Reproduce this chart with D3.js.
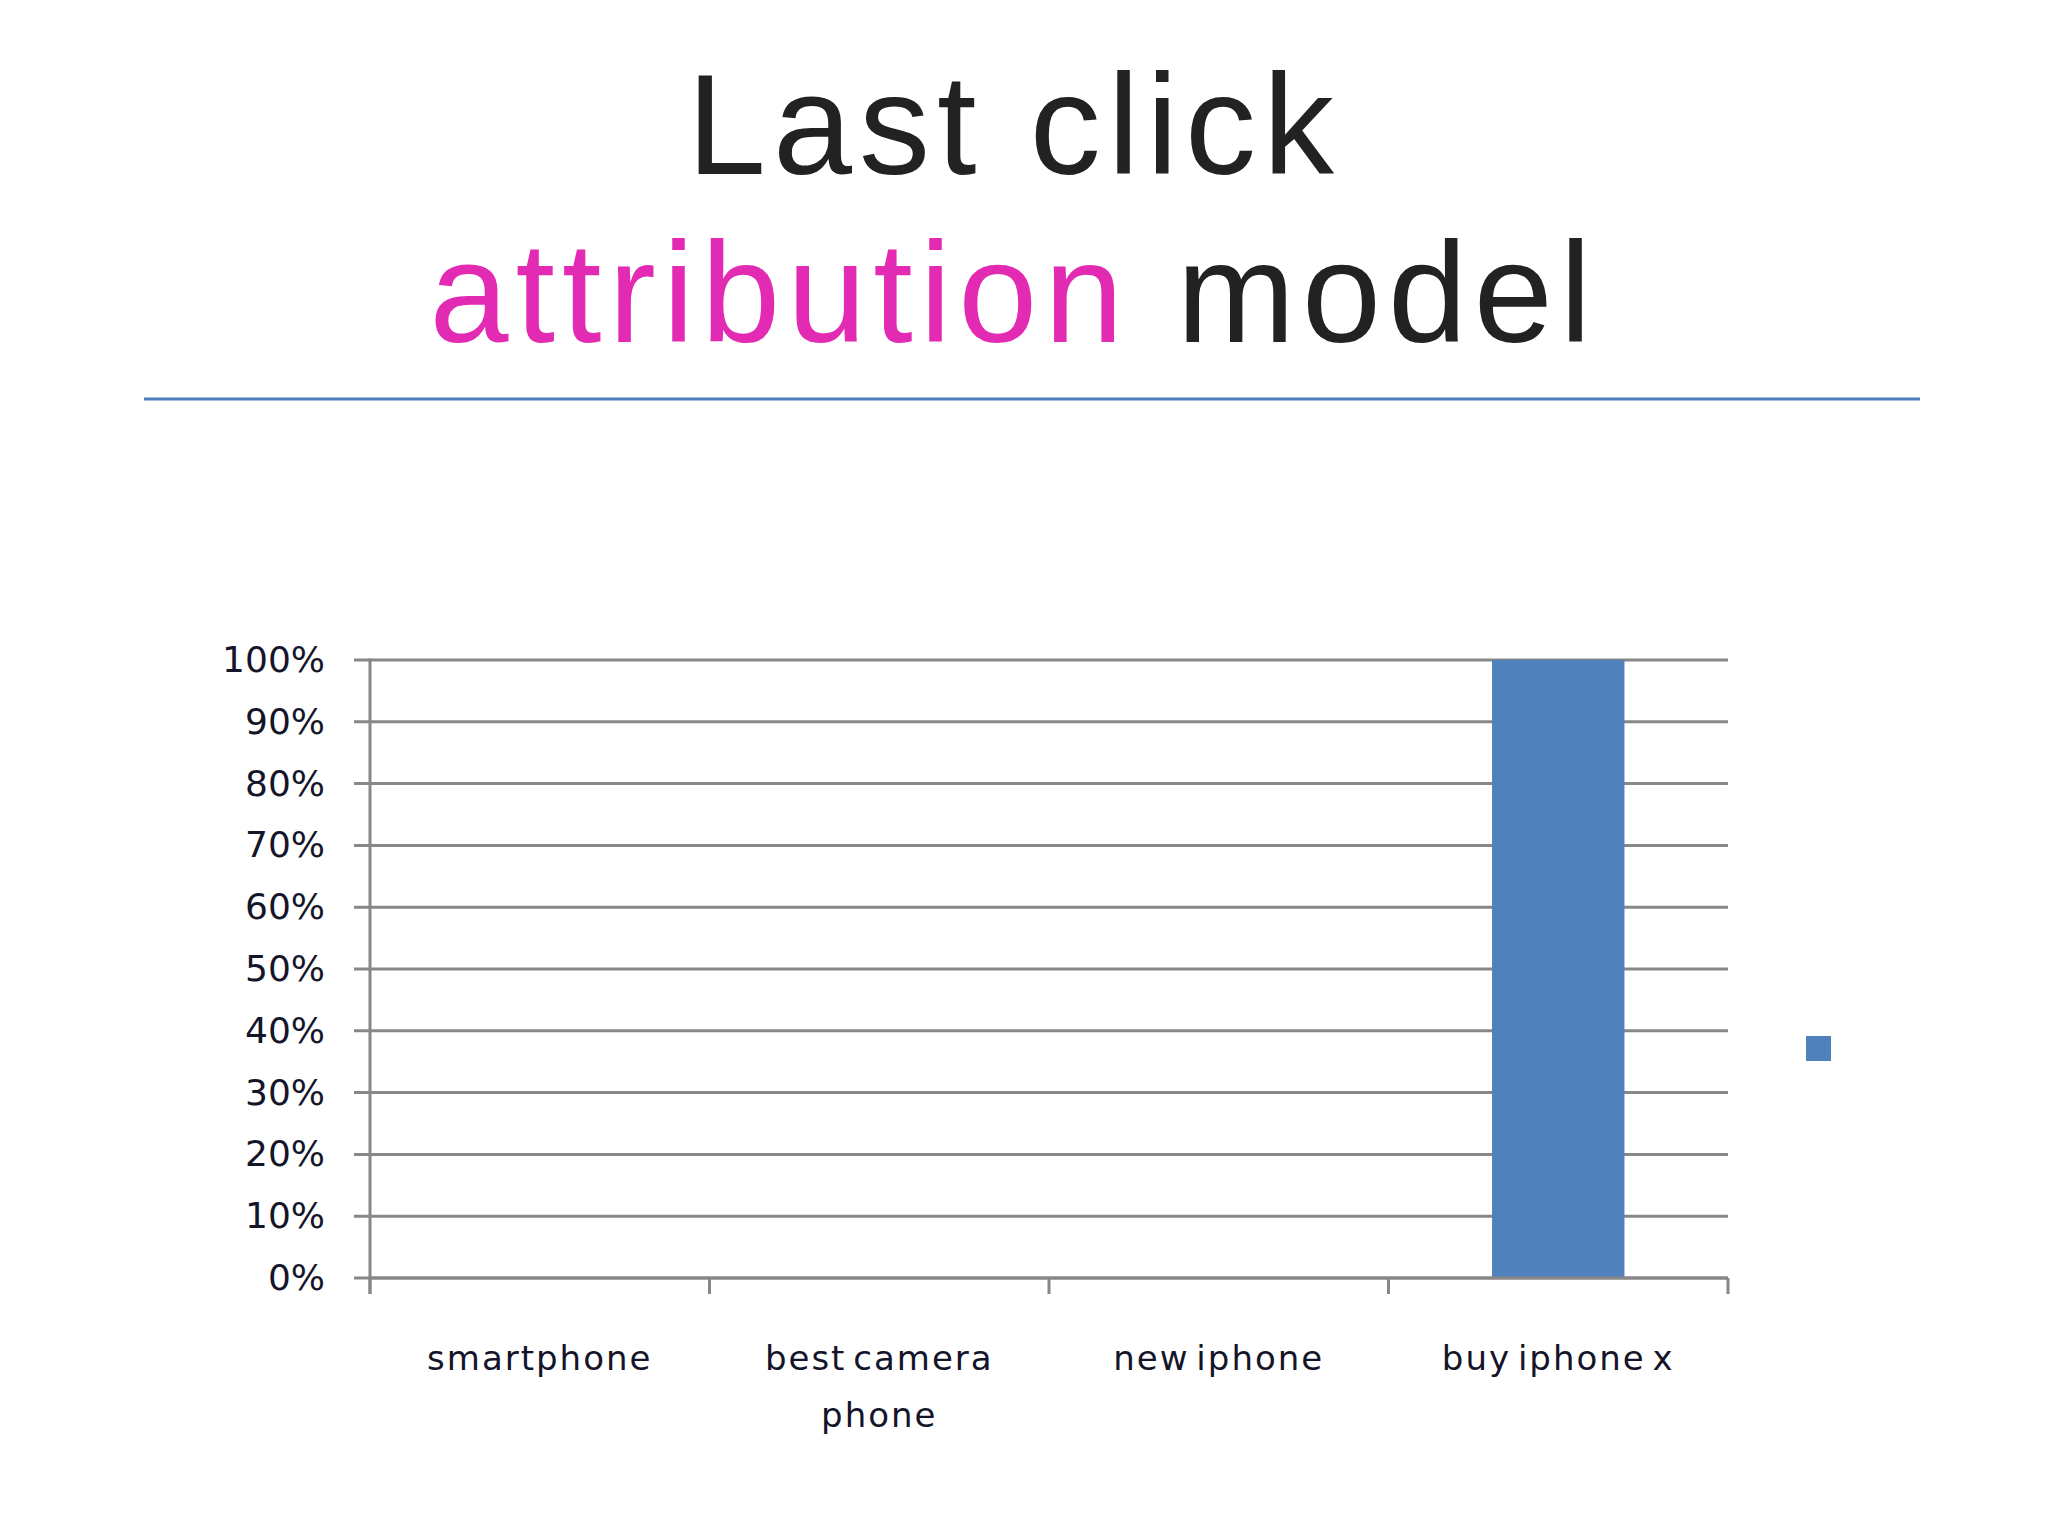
<!DOCTYPE html>
<html>
<head>
<meta charset="utf-8">
<script src="https://cdn.jsdelivr.net/npm/d3@7"></script>
<style>
  body { margin: 0; background: #ffffff; }
  svg { display: block; }
</style>
</head>
<body>
<div id="chart"></div>
<script>
// Chart data
var categories = ["smartphone", "best camera phone", "new iphone", "buy iphone x"];
var shares = [0, 0, 0, 1.0];
var yTickValues = [0, 0.1, 0.2, 0.3, 0.4, 0.5, 0.6, 0.7, 0.8, 0.9, 1.0];

// Define svg dimensions
var svgWidth = 2048;
var svgHeight = 1536;

// Plot area
var plot = { left: 370, right: 1728, top: 660, bottom: 1278 };

var svg = d3.select("#chart")
  .append("svg")
  .attr("width", svgWidth)
  .attr("height", svgHeight);

svg.append("rect")
  .attr("width", svgWidth)
  .attr("height", svgHeight)
  .attr("fill", "#ffffff");

// Title
var title = svg.append("g")
  .attr("font-family", "'Liberation Sans', Arial, sans-serif")
  .attr("font-size", 142)
  .attr("letter-spacing", "7px")
  .attr("text-anchor", "middle");

title.append("text")
  .attr("x", 1014)
  .attr("y", 174)
  .attr("fill", "#222222")
  .text("Last click");

var line2 = title.append("text")
  .attr("x", 1014)
  .attr("y", 342);
line2.append("tspan").attr("fill", "#e22ab3").text("attribution");
line2.append("tspan").attr("fill", "#222222").text(" model");

// Divider under title
svg.append("line")
  .attr("x1", 144)
  .attr("x2", 1920)
  .attr("y1", 399)
  .attr("y2", 399)
  .attr("stroke", "#4f7fbb")
  .attr("stroke-width", 3);

// Scales
var xBandScale = d3.scaleBand()
  .domain(categories)
  .range([plot.left, plot.right])
  .paddingInner(0.61)
  .paddingOuter(0.305);

var yLinearScale = d3.scaleLinear()
  .domain([0, 1])
  .range([plot.bottom, plot.top]);

var chartGroup = svg.append("g");

// Gridlines
chartGroup.append("g")
  .selectAll("line")
  .data(yTickValues)
  .enter()
  .append("line")
  .attr("x1", plot.left - 16)
  .attr("x2", plot.right)
  .attr("y1", d => yLinearScale(d))
  .attr("y2", d => yLinearScale(d))
  .attr("stroke", "#878787")
  .attr("stroke-width", 3);

// Y axis labels
var leftAxis = d3.axisLeft(yLinearScale)
  .tickValues(yTickValues)
  .tickFormat(d3.format(".0%"))
  .tickSize(0)
  .tickPadding(45);

var yAxis = chartGroup.append("g")
  .attr("transform", `translate(${plot.left}, 0)`)
  .call(leftAxis);
yAxis.select(".domain").remove();
yAxis.selectAll("text")
  .attr("font-family", "'DejaVu Sans', Verdana, sans-serif")
  .attr("font-size", 36)
  .attr("fill", "#15152a");

// Bars
chartGroup.append("g")
  .selectAll("rect")
  .data(categories)
  .enter()
  .append("rect")
  .attr("x", d => xBandScale(d))
  .attr("width", xBandScale.bandwidth())
  .attr("y", (d, i) => yLinearScale(shares[i]))
  .attr("height", (d, i) => yLinearScale(0) - yLinearScale(shares[i]))
  .attr("fill", "#4f81bd");

// Axis lines
chartGroup.append("line")
  .attr("x1", plot.left)
  .attr("x2", plot.left)
  .attr("y1", plot.top - 1.5)
  .attr("y2", plot.bottom + 16)
  .attr("stroke", "#878787")
  .attr("stroke-width", 3);

chartGroup.append("line")
  .attr("x1", plot.left)
  .attr("x2", plot.right)
  .attr("y1", plot.bottom)
  .attr("y2", plot.bottom)
  .attr("stroke", "#878787")
  .attr("stroke-width", 3);

// Category boundary ticks
var step = xBandScale.step();
var boundaries = categories.map((d, i) => plot.left + i * step).concat([plot.right]);
chartGroup.append("g")
  .selectAll("line")
  .data(boundaries)
  .enter()
  .append("line")
  .attr("x1", d => d)
  .attr("x2", d => d)
  .attr("y1", plot.bottom)
  .attr("y2", plot.bottom + 16)
  .attr("stroke", "#878787")
  .attr("stroke-width", 3);

// Category labels, wrapped
var xLabels = chartGroup.append("g")
  .attr("font-family", "'DejaVu Sans', Verdana, sans-serif")
  .attr("font-size", 34)
  .attr("letter-spacing", "2px")
  .attr("word-spacing", "-6px")
  .attr("fill", "#15152a")
  .attr("text-anchor", "middle")
  .selectAll("text")
  .data(categories)
  .enter()
  .append("text")
  .attr("x", d => xBandScale(d) + xBandScale.bandwidth() / 2)
  .attr("y", 1370)
  .text(d => d);

function wrap(texts, maxWidth) {
  texts.each(function() {
    var text = d3.select(this);
    var words = text.text().split(/\s+/);
    var x = text.attr("x");
    var y = text.attr("y");
    text.text(null);
    var lines = [];
    var current = [];
    var tspan = text.append("tspan").attr("x", x).attr("y", y);
    words.forEach(function(w) {
      current.push(w);
      tspan.text(current.join(" "));
      if (tspan.node().getComputedTextLength() > maxWidth && current.length > 1) {
        current.pop();
        lines.push(current.join(" "));
        current = [w];
      }
    });
    lines.push(current.join(" "));
    tspan.remove();
    lines.forEach(function(l, i) {
      text.append("tspan")
        .attr("x", x)
        .attr("y", +y + i * 57)
        .text(l);
    });
  });
}
xLabels.call(wrap, 280);

// Legend marker
svg.append("rect")
  .attr("x", 1806)
  .attr("y", 1036)
  .attr("width", 25)
  .attr("height", 25)
  .attr("fill", "#4f81bd");
</script>
</body>
</html>
